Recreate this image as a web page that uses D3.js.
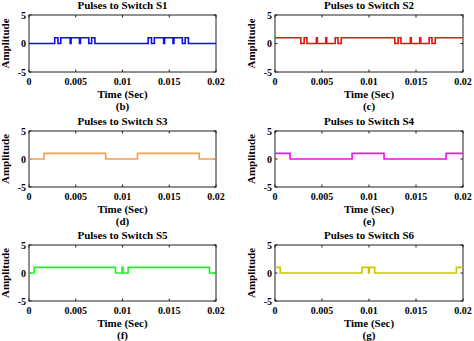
<!DOCTYPE html>
<html>
<head>
<meta charset="utf-8">
<script src="https://cdn.jsdelivr.net/npm/d3@7"></script>
<style>
  body { margin: 0; background: #fff; }
  svg text { font-family: "Liberation Serif", "Times New Roman", serif; font-weight: bold; fill: #000; }
</style>
</head>
<body>
<svg id="chart" width="474" height="341"></svg>
<script>
// switching instants (sec) where each gate signal toggles
let s1Edges = [0.00275, 0.0031, 0.0034, 0.0044, 0.0045, 0.0054, 0.0055, 0.0064, 0.0067, 0.00705,
               0.01275, 0.0131, 0.0134, 0.0144, 0.0145, 0.0154, 0.0155, 0.0164, 0.0167, 0.01705];
let s2Edges = [0.00275, 0.0031, 0.0034, 0.0044, 0.0045, 0.0054, 0.0055, 0.0064, 0.0067, 0.00705,
               0.01275, 0.0131, 0.0134, 0.0144, 0.0145, 0.0154, 0.0155, 0.0164, 0.0167, 0.01705];
let s3Edges = [0.0016, 0.0082, 0.0116, 0.0182];
let s4Edges = [0.0016, 0.0082, 0.0116, 0.0182];
let s5Edges = [0.00055, 0.00925, 0.00995, 0.01005, 0.0106, 0.0193];
let s6Edges = [0.00055, 0.00925, 0.00995, 0.01005, 0.0106, 0.0193];

// level of each signal at t = 0
let startLevels = [0, 1, 0, 1, 0, 1];

let titles = ['Pulses to Switch S1', 'Pulses to Switch S2', 'Pulses to Switch S3',
              'Pulses to Switch S4', 'Pulses to Switch S5', 'Pulses to Switch S6'];
let letters = ['(b)', '(c)', '(d)', '(e)', '(f)', '(g)'];
let colors = ['#1010e0', '#e81010', '#f5a04a', '#f010f0', '#20f020', '#c8c800'];

let xTicks = [0, 0.005, 0.01, 0.015, 0.02];
let xTickLabels = ['0', '0.005', '0.01', '0.015', '0.02'];
let yTicks = [-5, 0, 5];
let yTickLabels = ['-5', '0', '5'];

let edges = [s1Edges, s2Edges, s3Edges, s4Edges, s5Edges, s6Edges];

// panel boxes in pixels
let cols = [[29, 216], [275, 463]];
let rows = [[15, 72], [131, 187], [245, 301]];

let svg = d3.select('#chart');

function toSteps(ev, start) {
  let pts = [[0, start]];
  let lvl = start;
  ev.forEach(function(t) {
    lvl = 1 - lvl;
    pts.push([t, lvl]);
  });
  pts.push([0.02, lvl]);
  return pts;
}

function drawPanel(i) {
  let c = cols[i % 2], r = rows[Math.floor(i / 2)];
  let x = d3.scaleLinear().domain([0, 0.02]).range(c);
  let y = d3.scaleLinear().domain([-5, 5]).range([r[1], r[0]]);
  let g = svg.append('g');

  // frame
  g.append('rect')
    .attr('x', c[0]).attr('y', r[0])
    .attr('width', c[1] - c[0]).attr('height', r[1] - r[0])
    .attr('fill', '#fff').attr('stroke', '#222').attr('stroke-width', 1);

  // inward ticks on all four sides
  xTicks.forEach(function(t, k) {
    g.append('line').attr('x1', x(t)).attr('x2', x(t)).attr('y1', r[1]).attr('y2', r[1] - 2.5)
      .attr('stroke', '#222');
    g.append('line').attr('x1', x(t)).attr('x2', x(t)).attr('y1', r[0]).attr('y2', r[0] + 2.5)
      .attr('stroke', '#222');
    g.append('text').attr('x', x(t)).attr('y', r[1] + 13)
      .attr('text-anchor', 'middle').attr('font-size', 10)
      .text(xTickLabels[k]);
  });
  yTicks.forEach(function(v, k) {
    g.append('line').attr('x1', c[0]).attr('x2', c[0] + 2.5).attr('y1', y(v)).attr('y2', y(v))
      .attr('stroke', '#222');
    g.append('line').attr('x1', c[1]).attr('x2', c[1] - 2.5).attr('y1', y(v)).attr('y2', y(v))
      .attr('stroke', '#222');
    g.append('text').attr('x', c[0] - 3).attr('y', y(v) + 3.5)
      .attr('text-anchor', 'end').attr('font-size', 10)
      .text(yTickLabels[k]);
  });

  let line = d3.line()
    .x(function(d) { return x(d[0]); })
    .y(function(d) { return y(d[1]); })
    .curve(d3.curveStepAfter);

  g.append('path')
    .datum(toSteps(edges[i], startLevels[i]))
    .attr('d', line)
    .attr('fill', 'none')
    .attr('stroke', colors[i])
    .attr('stroke-width', 1.6);

  let cx = (c[0] + c[1]) / 2;
  g.append('text').attr('x', cx).attr('y', r[0] - 6)
    .attr('text-anchor', 'middle').attr('font-size', 11).text(titles[i]);
  g.append('text').attr('x', cx).attr('y', r[1] + 26)
    .attr('text-anchor', 'middle').attr('font-size', 11).text('Time (Sec)');
  g.append('text').attr('x', cx).attr('y', r[1] + 38)
    .attr('text-anchor', 'middle').attr('font-size', 11).text(letters[i]);
  g.append('text')
    .attr('transform', 'translate(' + (c[0] - 20) + ',' + ((r[0] + r[1]) / 2) + ') rotate(-90)')
    .attr('text-anchor', 'middle').attr('font-size', 11).text('Amplitude');
}

for (let i = 0; i < 6; i++) drawPanel(i);
</script>
</body>
</html>
